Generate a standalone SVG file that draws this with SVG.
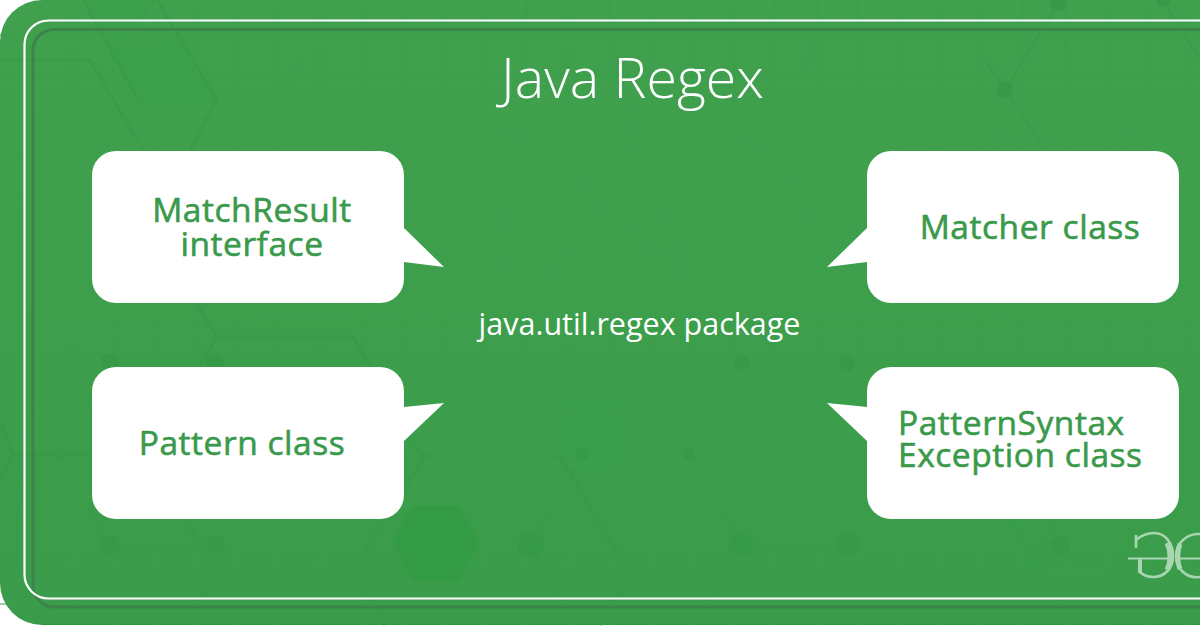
<svg xmlns="http://www.w3.org/2000/svg" width="1200" height="630" viewBox="0 0 1200 630">
<defs>
<linearGradient id="bg" x1="0" y1="0" x2="0" y2="1"><stop offset="0" stop-color="#40a04e"/><stop offset="1" stop-color="#3a9c4a"/></linearGradient>
<style>
.grid{stroke:#37a048;stroke-width:1;fill:none}
.hex{stroke:#379b48;stroke-width:3;fill:none}
.soft{stroke:#389d49;stroke-width:2.500;fill:none}
.thin{stroke:#389c4a;stroke-width:1.500;fill:none}
.faint{stroke:#3ba04c;stroke-width:1.200;fill:none}
.solid{fill:#349b45}
.dot{fill:#379a48}
.card{fill:#fff}
.label{font-family:"Open Sans","Liberation Sans",sans-serif;font-weight:400;font-size:33.500px;letter-spacing:.55px;fill:#3a9a4b;stroke:#3a9a4b;stroke-width:.6px}
.white{font-family:"Open Sans","Liberation Sans",sans-serif;fill:#fff}
</style>
</defs>
<rect width="1200" height="630" fill="#fff"/>
<path d="M42 0H1200V625H42A42 42 0 0 1 0 583V42A42 42 0 0 1 42 0Z" fill="url(#bg)"/>
<path d="M42 624.500H1200" stroke="#2a9a3f" stroke-width="1"/>
<g id="background">
<path class="grid" d="M72 0V625M113 0V625M154 0V625M195 0V625M237 0V625M278 0V625M320 0V625M362 0V625M403 0V625M443 0V625M485 0V625M527 0V625M568 0V625M609 0V625M651 0V625M693 0V625M734 0V625M775 0V625M817 0V625M857 0V625M899 0V625M941 0V625M982 0V625M1023 0V625M1065 0V625M1106 0V625M1147 0V625M1189 0V625"/>
<path class="grid" d="M0 35H1200M0 76H1200M0 117H1200M0 157H1200M0 198H1200M0 238H1200M0 280H1200M0 320H1200M0 360H1200M0 401H1200M0 442H1200M0 482H1200M0 523H1200M0 563H1200M0 604H1200"/>
<polygon points="83,0 157,0 120,50 180,30 217,104 140,104" fill="#3b9f4b"/>
<polygon class="solid" points="393,543 412,506 459,506 479,543 459,581 412,581"/>
<polygon points="568,402 617,402 637,437 617,475 573,475 552,437" fill="#3b9e4c" stroke="#389c4a"/>
<circle class="dot" cx="531" cy="545" r="13"/>
<circle class="dot" cx="741" cy="545" r="12"/>
<circle class="dot" cx="847" cy="545" r="12"/>
<circle class="dot" cx="110" cy="545" r="9.500"/>
<circle class="dot" cx="215" cy="545" r="9.500"/>
<circle class="dot" cx="110" cy="362" r="9"/>
<circle class="dot" cx="215" cy="362" r="9"/>
<circle class="dot" cx="58" cy="454" r="5"/>
<circle class="dot" cx="583" cy="454" r="7"/>
<circle class="dot" cx="689" cy="454" r="6"/>
<circle class="dot" cx="742" cy="363" r="8"/>
<circle class="dot" cx="847" cy="363" r="8"/>
<circle class="dot" cx="1005" cy="90" r="8"/>
<circle class="dot" cx="1058" cy="3" r="8"/>
<circle class="dot" cx="1163" cy="0" r="7"/>
<circle class="dot" cx="1060" cy="546" r="10"/>
<path class="soft" d="M0 60H90L143 150M83 0L140 104M157 0L217 100L190 150"/>
<path class="faint" d="M140 104H275L300 150M275 104L300 60M157 0L120 50"/>
<path class="hex" d="M197 305L217 337H353L400 418M217 337L180 400M187 523L217 573L195 610M217 573H353L400 490M353 573L385 625"/>
<path class="hex" d="M0 420L12 454L0 480M12 454H92"/>
<path class="hex" d="M410 440L425 456H560L630 575L600 625M425 456L404 490"/>
<path class="soft" d="M1010 520L1068 620M1065 505L1010 600"/>
<path class="thin" d="M110 545H215M58 454L110 545L75 610M58 454L92 395M583 454H689M583 454L531 545L575 625M689 454L741 545H847M741 545L695 625M742 363H847M742 363L689 454M557 588H605L627 625M557 588L535 625M1005 90L1058 3M1005 90L1045 150M1005 90L985 60M1163 0L1200 60M847 545L880 605"/>
<path class="faint" d="M510 207H550L570 242L550 277H510L490 242ZM500 117L687 277M623 100L687 277M733 125L817 190M797 242L813 207M947 103H992L1010 140L995 150M947 103L927 140L935 150M900 75H950M1028 112H1145L1100 190M800 75L815 48L800 30M1040 575H1100"/>
</g>
<g id="frame" fill="none">
<rect x="33" y="29.500" width="1190" height="577.500" rx="21" stroke="#3c8449" stroke-width="3"/>
<rect x="24.500" y="20.500" width="1200" height="578" rx="24" stroke="#fff" stroke-width="2.200"/>
</g>
<g id="logo" fill="none" stroke="#a9d6b1">
<path d="M1136 548V535M1136 540C1142 535 1149 533 1154 533C1166 533 1173 544 1173 556C1173 568 1165 577 1153 577C1147 577 1143 575 1140 572V559" stroke-width="2.600"/>
<path d="M1167 543C1171 551 1171 562 1167 570" stroke-width="5"/>
<path d="M1128 558.500H1172M1178 558.500H1200" stroke-width="2.200"/>
<path d="M1200 534C1186 533 1176 544 1176 556C1176 568 1186 579 1200 577" stroke-width="2.600"/>
<path d="M1180 544C1177 551 1177 562 1180 569" stroke-width="5"/>
<path d="M1140 560V573" stroke-width="4"/>
</g>
<text class="white" x="632.500" y="98" text-anchor="middle" font-size="55.500" font-weight="300">Java Regex</text>
<text class="white" x="639.500" y="335" text-anchor="middle" font-size="30.500" font-weight="400">java.util.regex package</text>
<g id="node-matchresult">
<path class="card" d="M116 151H380A24 24 0 0 1 404 175V228L444 267L404 262V279A24 24 0 0 1 380 303H116A24 24 0 0 1 92 279V175A24 24 0 0 1 116 151Z"/>
<text class="label" x="252" y="222" text-anchor="middle">MatchResult</text>
<text class="label" x="252" y="256" text-anchor="middle">interface</text>
</g>
<g id="node-matcher">
<path class="card" d="M891 151H1155A24 24 0 0 1 1179 175V279A24 24 0 0 1 1155 303H891A24 24 0 0 1 867 279V262L827 267L867 228V175A24 24 0 0 1 891 151Z"/>
<text class="label" x="1030" y="239" text-anchor="middle">Matcher class</text>
</g>
<g id="node-pattern">
<path class="card" d="M116 367H380A24 24 0 0 1 404 391V407L444 403L404 441V495A24 24 0 0 1 380 519H116A24 24 0 0 1 92 495V391A24 24 0 0 1 116 367Z"/>
<text class="label" x="242" y="455" text-anchor="middle">Pattern class</text>
</g>
<g id="node-patternsyntax">
<path class="card" d="M891 367H1155A24 24 0 0 1 1179 391V495A24 24 0 0 1 1155 519H891A24 24 0 0 1 867 495V441L827 403L867 407V391A24 24 0 0 1 891 367Z"/>
<text class="label" x="898" y="435">PatternSyntax</text>
<text class="label" x="898" y="467">Exception class</text>
</g>
</svg>
